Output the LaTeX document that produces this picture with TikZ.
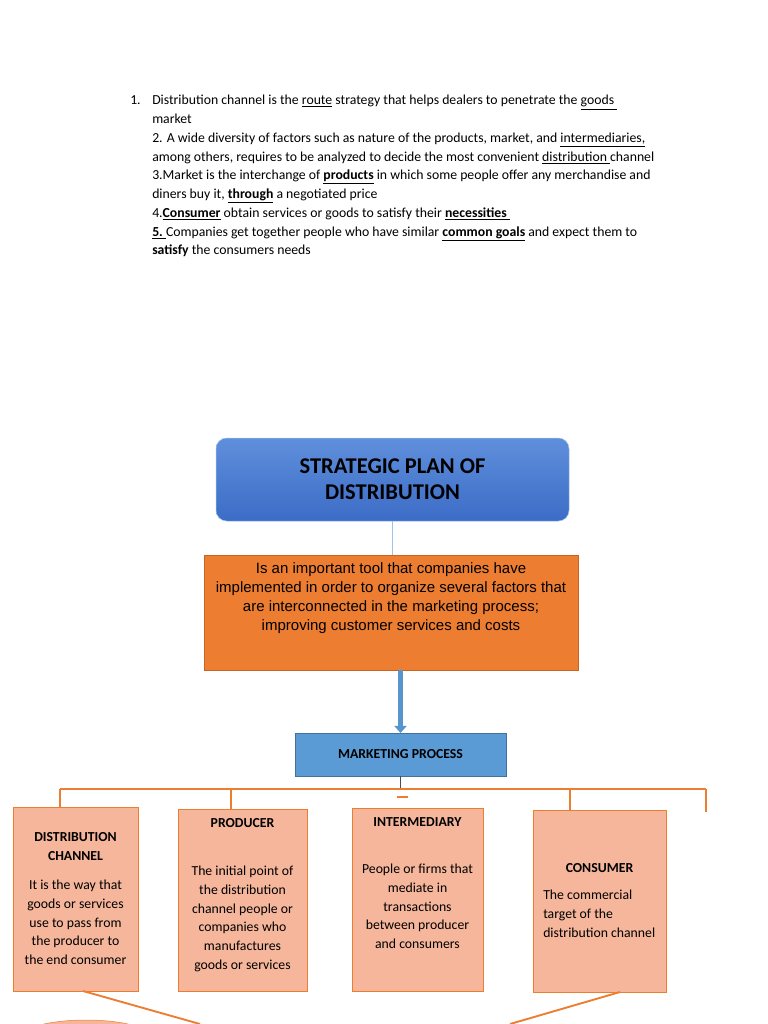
\documentclass[tikz,border=0pt]{standalone}
\usepackage{fontspec}
\setmainfont{Carlito}
\newfontfamily\arialfont{Liberation Sans}
\usetikzlibrary{shapes.geometric,arrows.meta}
\def\pu{0.02811cm}
\definecolor{salmon}{RGB}{245,182,155}
\definecolor{brick}{RGB}{237,125,49}
\definecolor{brickdark}{RGB}{200,100,35}
\definecolor{skyblue}{RGB}{91,155,213}
\definecolor{steel}{RGB}{65,113,156}
\definecolor{royaltop}{RGB}{95,143,219}
\definecolor{royalbot}{RGB}{60,108,198}
\definecolor{paleblue}{RGB}{157,195,230}

\begin{document}
\begin{tikzpicture}[x=\pu,y=-\pu,
  card/.style={draw=brick,fill=salmon,outer sep=0pt,inner sep=0pt},
  cardtext/.style={inner sep=0pt,align=center,font=\fontsize{11}{15}\selectfont},
  tie/.style={brick,line width=1.5pt}]
  \useasboundingbox (0,0) rectangle (768,1024);
  \clip (0,0) rectangle (768,1024);

  \node[anchor=base west,inner sep=0pt,font=\fontsize{11}{15}\selectfont] (num) at (130,104.5) {1.};
  \node[anchor=north west,inner sep=0pt,align=left,font=\fontsize{11}{15}\selectfont] (notes) at (152,95) {%
    Distribution channel is the \underline{route} strategy that helps dealers to penetrate the \underline{goods\ }\\
    market\\
    2. A wide diversity of factors such as nature of the products, market, and \underline{intermediaries,}\\
    among others, requires to be analyzed to decide the most convenient \underline{distribution\ }channel\\
    3.Market is the interchange of \underline{\textbf{products}} in which some people offer any merchandise and\\
    diners buy it, \underline{\textbf{through}} a negotiated price\\
    4.\underline{\textbf{Consumer}} obtain services or goods to satisfy their \underline{\textbf{necessities}\ }\\
    \underline{\textbf{5.}\ }Companies get together people who have similar \underline{\textbf{common goals}} and expect them to\\
    \textbf{satisfy} the consumers needs};

  \node[draw=paleblue,top color=royaltop,bottom color=royalbot,rounded corners=0.3cm,
    minimum width=353*\pu,minimum height=83*\pu,outer sep=0pt,align=center,
    font=\fontsize{18}{21}\selectfont\bfseries,text=black] (plan) at (392.5,479.5)
    {STRATEGIC PLAN OF\\DISTRIBUTION};
  \node[draw=brickdark,fill=brick,minimum width=374*\pu,minimum height=115*\pu,outer sep=0pt] (tool) at (391,612.5) {};
  \node[anchor=north,inner sep=0pt,align=center,font=\arialfont\fontsize{12}{15.4}\selectfont] (tooltext) at (391,562) {%
    Is an important tool that companies have\\
    implemented in order to organize several factors that\\
    are interconnected in the marketing process;\\
    improving customer services and costs};
  \node[draw=steel,fill=skyblue,minimum width=211*\pu,minimum height=43*\pu,outer sep=0pt,
    font=\fontsize{11}{13}\selectfont\bfseries] (market) at (400.5,754.5) {MARKETING PROCESS};

  \draw[paleblue,line width=1pt] (plan.south) -- (plan.south |- tool.north);
  \draw[-{Triangle[width=0.34cm,length=0.2cm]},line width=0.15cm,skyblue!85!steel] (market.north |- tool.south) -- (market.north);

  \node[card,minimum width=125*\pu,minimum height=184*\pu] (chan) at (75.5,899) {};
  \node[card,minimum width=129*\pu,minimum height=182*\pu] (prod) at (242.5,900) {};
  \node[card,minimum width=131*\pu,minimum height=183*\pu] (inter) at (417.5,899.5) {};
  \node[card,minimum width=133*\pu,minimum height=182*\pu] (cons) at (599.5,901) {};

  \node[cardtext,anchor=north] (chantext) at (75.5,832.5) {%
    \textbf{DISTRIBUTION}\\\textbf{CHANNEL}\\[0.29cm]
    It is the way that\\goods or services\\use to pass from\\the producer to\\the end consumer};
  \node[cardtext,anchor=north] (prodtext) at (242.5,818.5) {%
    \textbf{PRODUCER}\\[0.82cm]
    The initial point of\\the distribution\\channel people or\\companies who\\manufactures\\goods or services};
  \node[cardtext,anchor=north] (intertext) at (417.5,817.5) {%
    \textbf{INTERMEDIARY}\\[0.79cm]
    People or firms that\\mediate in\\transactions\\between producer\\and consumers};
  \node[cardtext,anchor=north] (conshead) at (599.5,863.5) {\textbf{CONSUMER}};
  \node[cardtext,anchor=north west,align=left] (constext) at (543,890) {%
    The commercial\\target of the\\distribution channel};

  \draw[gray!60!black,line width=0.8pt] (market.south) -- (market.south |- 0,789);
  \draw[tie] (60,789) -- (706,789);
  \foreach \x/\n in {60/chan,231/prod,570/cons}
    \draw[tie] (\x,789) -- (\n.north -| \x,789);
  \coordinate (endtick) at (706,812);
  \draw[tie] (706,789) -- (endtick);
  \draw[tie] (397,797) -- (408,797);

  \node[card,ellipse,minimum width=140*\pu,minimum height=40*\pu] (goal) at (86,1040) {};
  \coordinate (lowleft) at (200,1024);
  \coordinate (lowright) at (510,1024);
  \draw[tie] ([xshift=7.5*\pu]chan.south) -- (lowleft);
  \draw[tie] ([xshift=20.5*\pu]cons.south) -- (lowright);
\end{tikzpicture}
\end{document}
